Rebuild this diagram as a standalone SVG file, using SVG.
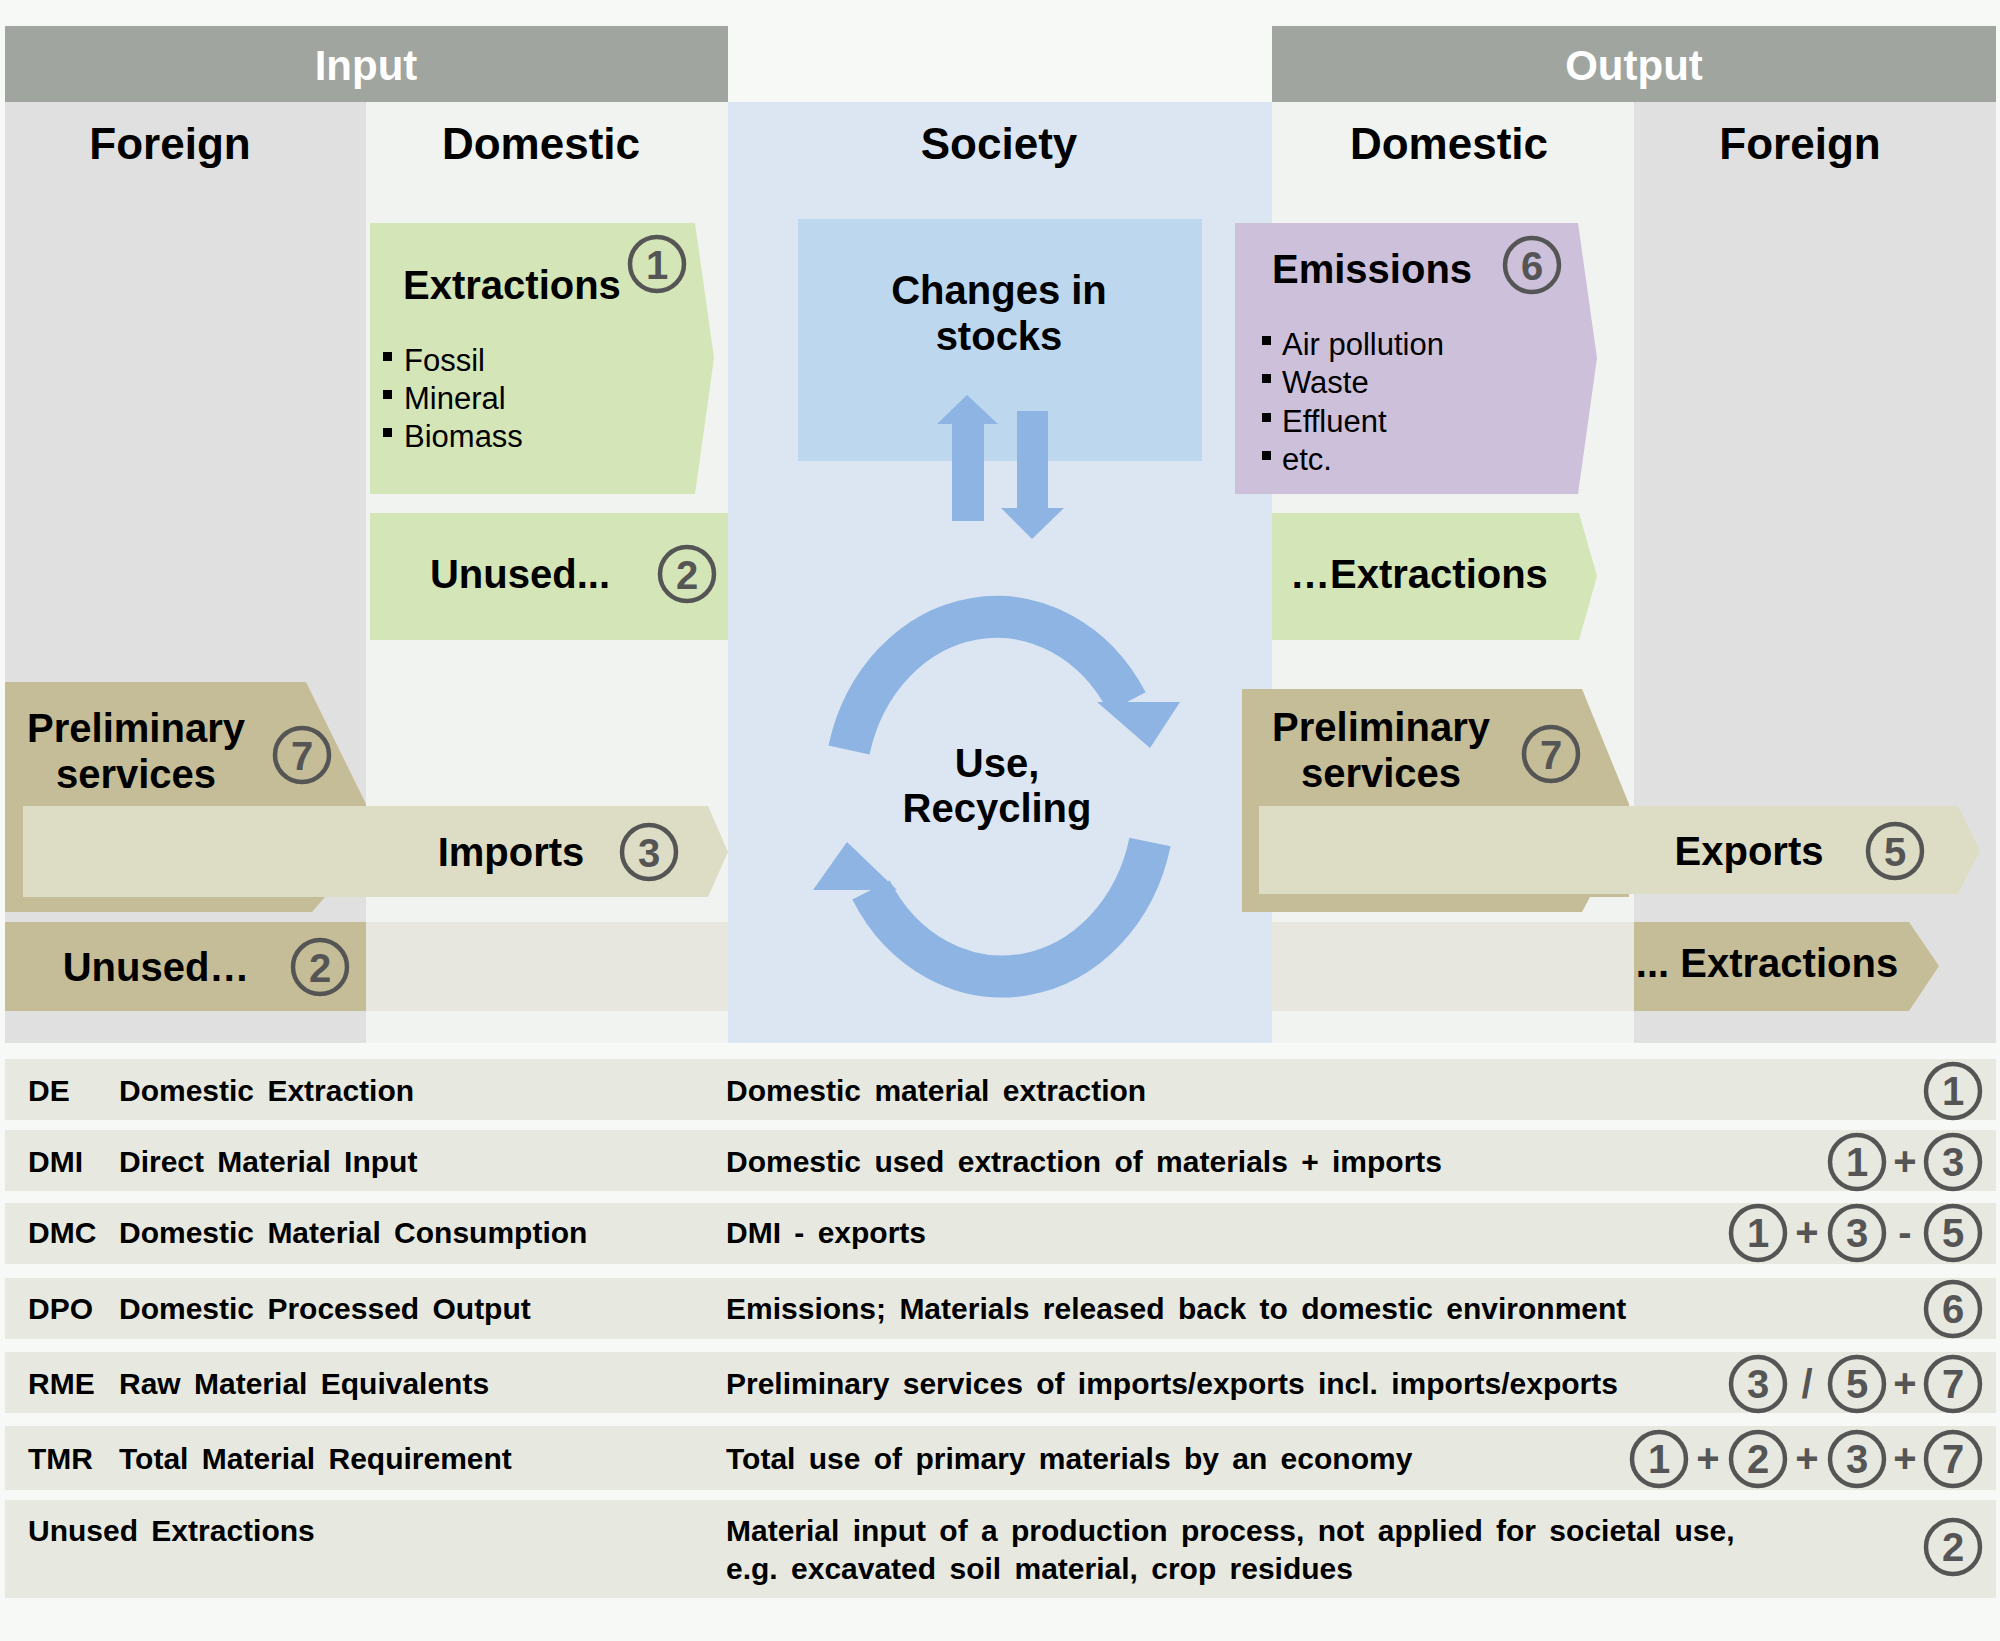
<svg xmlns="http://www.w3.org/2000/svg" width="2000" height="1641" viewBox="0 0 2000 1641">
<style>
text{font-family:"Liberation Sans",Arial,sans-serif;}
.h{font-size:44px;font-weight:bold;fill:#000;text-anchor:middle}
.hw{font-size:42px;font-weight:bold;fill:#fff;text-anchor:middle}
.b{font-size:40px;font-weight:bold;fill:#000}
.l{font-size:31px;fill:#000}
.t{font-size:30px;font-weight:bold;fill:#000;word-spacing:5px}
.c{fill:none;stroke:#555;stroke-width:4.5}
.n{font-size:40px;font-weight:bold;fill:#555;text-anchor:middle}
.op{font-size:40px;font-weight:bold;fill:#555;text-anchor:middle}
.arc{fill:none;stroke:#8db4e2;stroke-width:42}
.ar{fill:#8db4e2}
.row{fill:#e7e9e1}
</style>
<defs>
<g id="circ"><circle r="27" class="c"/></g>
</defs>
<rect width="2000" height="1641" fill="#f6f9f5"/>
<g id="columns">
<rect x="5" y="102" width="361" height="941" fill="#e0e0e0"/>
<rect x="366" y="102" width="362" height="941" fill="#f0f3ef"/>
<rect x="728" y="102" width="544" height="941" fill="#dce6f2"/>
<rect x="1272" y="102" width="362" height="941" fill="#f0f3ef"/>
<rect x="1634" y="102" width="362" height="941" fill="#e0e0e0"/>
<rect x="5" y="26" width="723" height="76" fill="#a0a5a0"/>
<rect x="1272" y="26" width="724" height="76" fill="#a0a5a0"/>
<text x="366" y="80" class="hw">Input</text>
<text x="1634" y="80" class="hw">Output</text>
<text x="170" y="159" class="h">Foreign</text>
<text x="541" y="159" class="h">Domestic</text>
<text x="999" y="159" class="h">Society</text>
<text x="1449" y="159" class="h">Domestic</text>
<text x="1800" y="159" class="h">Foreign</text>
<rect x="366" y="922" width="362" height="89" fill="#e7e7e0"/>
<rect x="1272" y="922" width="362" height="89" fill="#e7e7e0"/>
</g>
<g id="extractions">
<polygon points="370,223 695,223 714,358 695,494 370,494" fill="#d4e5b8"/>
<text x="403" y="299" class="b">Extractions</text>
<use href="#circ" x="657" y="264"/><text x="657" y="279" class="n">1</text>
<rect x="383" y="352" width="9" height="9" fill="#000"/><text x="404" y="371" class="l">Fossil</text>
<rect x="383" y="390" width="9" height="9" fill="#000"/><text x="404" y="409" class="l">Mineral</text>
<rect x="383" y="428" width="9" height="9" fill="#000"/><text x="404" y="447" class="l">Biomass</text>
</g>
<g id="unused-dom">
<rect x="370" y="513" width="358" height="127" fill="#d4e5b8"/>
<text x="520" y="588" class="b" text-anchor="middle">Unused...</text>
<use href="#circ" x="687" y="574"/><text x="687" y="589" class="n">2</text>
</g>
<g id="stocks">
<rect x="798" y="219" width="404" height="242" fill="#bdd7ee"/>
<text x="999" y="304" class="b" text-anchor="middle">Changes in</text>
<text x="999" y="350" class="b" text-anchor="middle">stocks</text>
</g>
<g id="connectors">
<polygon class="ar" points="967,395 998,424 984,424 984,521 952,521 952,424 937,424"/>
<polygon class="ar" points="1017,411 1048,411 1048,508 1064,508 1032,539 1001,508 1017,508"/>
<path class="arc" d="M849,750 A152,175 0 0 1 1127,702"/>
<polygon class="ar" points="1097,702 1180,702 1150,748"/>
<path class="arc" d="M1150,842 A152,175 0 0 1 871,890"/>
<polygon class="ar" points="813,890 847,842 897,890"/>
</g>
<g id="use">
<text x="997" y="777" class="b" text-anchor="middle">Use,</text>
<text x="997" y="822" class="b" text-anchor="middle">Recycling</text>
</g>
<g id="emissions">
<polygon points="1235,223 1578,223 1597,358 1578,494 1235,494" fill="#ccc0da"/>
<text x="1272" y="283" class="b">Emissions</text>
<use href="#circ" x="1532" y="265"/><text x="1532" y="280" class="n">6</text>
<rect x="1262" y="336" width="9" height="9" fill="#000"/><text x="1282" y="355" class="l">Air pollution</text>
<rect x="1262" y="374" width="9" height="9" fill="#000"/><text x="1282" y="393" class="l">Waste</text>
<rect x="1262" y="413" width="9" height="9" fill="#000"/><text x="1282" y="432" class="l">Effluent</text>
<rect x="1262" y="451" width="9" height="9" fill="#000"/><text x="1282" y="470" class="l">etc.</text>
</g>
<g id="extractions-out">
<polygon points="1272,513 1579,513 1597,576 1579,640 1272,640" fill="#d4e5b8"/>
<text x="1290" y="588" class="b">…Extractions</text>
</g>
<g id="prelim-in">
<polygon points="5,682 306,682 366,804 366,897 325,897 312,912 5,912" fill="#c4bd97"/>
<text x="136" y="742" class="b" text-anchor="middle">Preliminary</text>
<text x="136" y="788" class="b" text-anchor="middle">services</text>
<use href="#circ" x="302" y="755"/><text x="302" y="770" class="n">7</text>
</g>
<g id="imports">
<polygon points="23,806 708,806 728,852 708,897 23,897" fill="#ddddc5"/>
<text x="511" y="866" class="b" text-anchor="middle">Imports</text>
<use href="#circ" x="649" y="852"/><text x="649" y="867" class="n">3</text>
</g>
<g id="unused-for">
<rect x="5" y="922" width="361" height="89" fill="#c4bd97"/>
<text x="156" y="981" class="b" text-anchor="middle">Unused…</text>
<use href="#circ" x="320" y="967"/><text x="320" y="982" class="n">2</text>
</g>
<g id="prelim-out">
<polygon points="1242,689 1582,689 1629,804 1629,897 1590,897 1582,912 1242,912" fill="#c4bd97"/>
<text x="1381" y="741" class="b" text-anchor="middle">Preliminary</text>
<text x="1381" y="787" class="b" text-anchor="middle">services</text>
<use href="#circ" x="1551" y="754"/><text x="1551" y="769" class="n">7</text>
</g>
<g id="exports">
<polygon points="1259,806 1958,806 1980,851 1958,894 1259,894" fill="#ddddc5"/>
<text x="1749" y="865" class="b" text-anchor="middle">Exports</text>
<use href="#circ" x="1895" y="851"/><text x="1895" y="866" class="n">5</text>
</g>
<g id="extractions-for">
<polygon points="1634,922 1909,922 1939,966 1909,1011 1634,1011" fill="#c4bd97"/>
<text x="1767" y="977" class="b" text-anchor="middle">... Extractions</text>
</g>
<g id="table">
<rect class="row" x="5" y="1059" width="1991" height="61"/>
<rect class="row" x="5" y="1130" width="1991" height="61"/>
<rect class="row" x="5" y="1203" width="1991" height="61"/>
<rect class="row" x="5" y="1278" width="1991" height="61"/>
<rect class="row" x="5" y="1352" width="1991" height="61"/>
<rect class="row" x="5" y="1426" width="1991" height="64"/>
<rect class="row" x="5" y="1500" width="1991" height="98"/>
<text x="28" y="1101" class="t">DE</text><text x="119" y="1101" class="t">Domestic Extraction</text><text x="726" y="1101" class="t">Domestic material extraction</text>
<text x="28" y="1172" class="t">DMI</text><text x="119" y="1172" class="t">Direct Material Input</text><text x="726" y="1172" class="t">Domestic used extraction of materials + imports</text>
<text x="28" y="1243" class="t">DMC</text><text x="119" y="1243" class="t">Domestic Material Consumption</text><text x="726" y="1243" class="t">DMI - exports</text>
<text x="28" y="1319" class="t">DPO</text><text x="119" y="1319" class="t">Domestic Processed Output</text><text x="726" y="1319" class="t">Emissions; Materials released back to domestic environment</text>
<text x="28" y="1394" class="t">RME</text><text x="119" y="1394" class="t">Raw Material Equivalents</text><text x="726" y="1394" class="t">Preliminary services of imports/exports incl. imports/exports</text>
<text x="28" y="1469" class="t">TMR</text><text x="119" y="1469" class="t">Total Material Requirement</text><text x="726" y="1469" class="t">Total use of primary materials by an economy</text>
<text x="28" y="1541" class="t">Unused Extractions</text><text x="726" y="1541" class="t">Material input of a production process, not applied for societal use,</text>
<text x="726" y="1579" class="t">e.g. excavated soil material, crop residues</text>
<use href="#circ" x="1953" y="1091"/><text x="1953" y="1105" class="n">1</text>
<use href="#circ" x="1857" y="1162"/><text x="1857" y="1176" class="n">1</text><text x="1905" y="1175" class="op">+</text>
<use href="#circ" x="1953" y="1162"/><text x="1953" y="1176" class="n">3</text>
<use href="#circ" x="1758" y="1233"/><text x="1758" y="1247" class="n">1</text><text x="1807" y="1246" class="op">+</text>
<use href="#circ" x="1857" y="1233"/><text x="1857" y="1247" class="n">3</text><text x="1905" y="1246" class="op">-</text>
<use href="#circ" x="1953" y="1233"/><text x="1953" y="1247" class="n">5</text>
<use href="#circ" x="1953" y="1309"/><text x="1953" y="1323" class="n">6</text>
<use href="#circ" x="1758" y="1384"/><text x="1758" y="1398" class="n">3</text><text x="1807" y="1398" class="op">/</text>
<use href="#circ" x="1857" y="1384"/><text x="1857" y="1398" class="n">5</text><text x="1905" y="1397" class="op">+</text>
<use href="#circ" x="1953" y="1384"/><text x="1953" y="1398" class="n">7</text>
<use href="#circ" x="1659" y="1459"/><text x="1659" y="1473" class="n">1</text><text x="1708" y="1472" class="op">+</text>
<use href="#circ" x="1758" y="1459"/><text x="1758" y="1473" class="n">2</text><text x="1807" y="1472" class="op">+</text>
<use href="#circ" x="1857" y="1459"/><text x="1857" y="1473" class="n">3</text><text x="1905" y="1472" class="op">+</text>
<use href="#circ" x="1953" y="1459"/><text x="1953" y="1473" class="n">7</text>
<use href="#circ" x="1953" y="1547"/><text x="1953" y="1561" class="n">2</text>
</g>
</svg>
